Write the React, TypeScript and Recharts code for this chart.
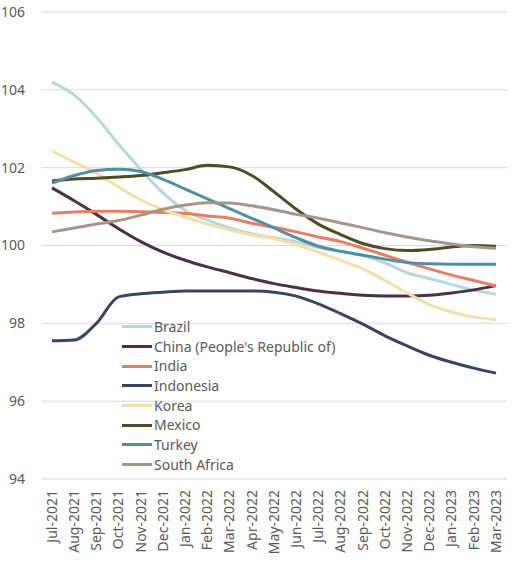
import React from "react";
import { LineChart, Line, XAxis, YAxis, CartesianGrid, Legend } from "recharts";

const months = [
  "Jul-2021", "Aug-2021", "Sep-2021", "Oct-2021", "Nov-2021", "Dec-2021",
  "Jan-2022", "Feb-2022", "Mar-2022", "Apr-2022", "May-2022", "Jun-2022",
  "Jul-2022", "Aug-2022", "Sep-2022", "Oct-2022", "Nov-2022", "Dec-2022",
  "Jan-2023", "Feb-2023", "Mar-2023",
];

const brazil = [104.2, 103.87, 103.3, 102.6, 101.95, 101.35, 100.9, 100.65, 100.45, 100.3, 100.2, 100.1, 99.95, 99.85, 99.75, 99.55, 99.3, 99.15, 99.0, 98.85, 98.75];
const china = [101.48, 101.15, 100.8, 100.43, 100.1, 99.83, 99.62, 99.45, 99.3, 99.15, 99.02, 98.92, 98.83, 98.77, 98.72, 98.7, 98.7, 98.72, 98.78, 98.86, 98.97];
const india = [100.83, 100.86, 100.88, 100.88, 100.87, 100.85, 100.82, 100.76, 100.7, 100.57, 100.47, 100.35, 100.22, 100.1, 99.93, 99.75, 99.57, 99.4, 99.24, 99.1, 98.96];
const indonesia = [97.55, 97.57, 98.0, 98.68, 98.76, 98.8, 98.83, 98.83, 98.83, 98.83, 98.8, 98.7, 98.5, 98.25, 97.98, 97.68, 97.42, 97.18, 97.0, 96.85, 96.72];
const korea = [102.43, 102.14, 101.86, 101.5, 101.17, 100.92, 100.73, 100.55, 100.4, 100.27, 100.18, 100.02, 99.83, 99.62, 99.4, 99.1, 98.78, 98.48, 98.29, 98.16, 98.1];
const mexico = [101.66, 101.71, 101.73, 101.76, 101.8, 101.87, 101.95, 102.06, 102.02, 101.8, 101.38, 100.93, 100.55, 100.28, 100.05, 99.92, 99.87, 99.9, 99.96, 100.0, 99.98];
const turkey = [101.6, 101.8, 101.93, 101.96, 101.9, 101.7, 101.45, 101.2, 100.95, 100.7, 100.45, 100.2, 99.98, 99.85, 99.75, 99.65, 99.56, 99.53, 99.52, 99.52, 99.52];
const southAfrica = [100.35, 100.45, 100.55, 100.64, 100.78, 100.93, 101.04, 101.1, 101.09, 101.02, 100.92, 100.8, 100.7, 100.58, 100.46, 100.33, 100.22, 100.12, 100.04, 99.97, 99.93];

const yTicks = [94, 96, 98, 100, 102, 104, 106];

const series = [
  { key: "brazil", name: "Brazil", color: "#b7d7df", values: brazil },
  { key: "china", name: "China (People's Republic of)", color: "#4f2e4a", values: china },
  { key: "india", name: "India", color: "#e97d61", values: india },
  { key: "indonesia", name: "Indonesia", color: "#354564", values: indonesia },
  { key: "korea", name: "Korea", color: "#f4dfa7", values: korea },
  { key: "mexico", name: "Mexico", color: "#4f4b24", values: mexico },
  { key: "turkey", name: "Turkey", color: "#4e8fa6", values: turkey },
  { key: "southAfrica", name: "South Africa", color: "#a8948a", values: southAfrica },
];

const data = months.map((m, i) => {
  const row: Record<string, string | number> = { month: m };
  series.forEach((s) => {
    row[s.key] = s.values[i];
  });
  return row;
});

const FONT = "'Noto Sans', 'Open Sans', sans-serif";
const TEXT = "#595959";

const XTick = (props: any) => {
  const { x, y, payload } = props;
  return (
    <text
      x={x}
      y={y}
      transform={`rotate(-90 ${x} ${y})`}
      textAnchor="end"
      dy="0.35em"
      fill={TEXT}
      fontSize={14}
      fontFamily={FONT}
    >
      {payload.value}
    </text>
  );
};

const renderLegend = () => (
  <div style={{ fontFamily: FONT, fontSize: 14, color: TEXT }}>
    {series.map((s) => (
      <div
        key={s.key}
        style={{ display: "flex", alignItems: "center", height: 19.7, lineHeight: "19.7px", whiteSpace: "nowrap" }}
      >
        <span style={{ display: "inline-block", width: 30, height: 3, background: s.color, marginRight: 2 }} />
        <span>{s.name}</span>
      </div>
    ))}
  </div>
);

export default function App() {
  return (
    <div style={{ position: "absolute", left: 0, top: 0, width: 519, height: 581, background: "#fff" }}>
      <LineChart width={519} height={581} data={data} margin={{ top: 12, right: 12, left: 0, bottom: 0 }}>
        <CartesianGrid vertical={false} stroke="#d9d9d9" />
        <XAxis
          dataKey="month"
          interval={0}
          height={102}
          padding={{ left: 11, right: 11 }}
          axisLine={false}
          tickLine={false}
          tickMargin={5}
          tick={<XTick />}
        />
        <YAxis
          width={41}
          domain={[94, 106]}
          ticks={yTicks}
          axisLine={false}
          tickLine={false}
          tickMargin={10}
          tick={{ fill: TEXT, fontSize: 14, fontFamily: FONT }}
        />
        <Legend
          layout="vertical"
          align="center"
          verticalAlign="middle"
          content={renderLegend}
          wrapperStyle={{ position: "absolute", left: 122, top: 317, width: "auto" }}
        />
        {series.map((s) => (
          <Line
            key={s.key}
            type="monotone"
            dataKey={s.key}
            name={s.name}
            stroke={s.color}
            strokeWidth={3}
            dot={false}
            isAnimationActive={false}
          />
        ))}
      </LineChart>
    </div>
  );
}
